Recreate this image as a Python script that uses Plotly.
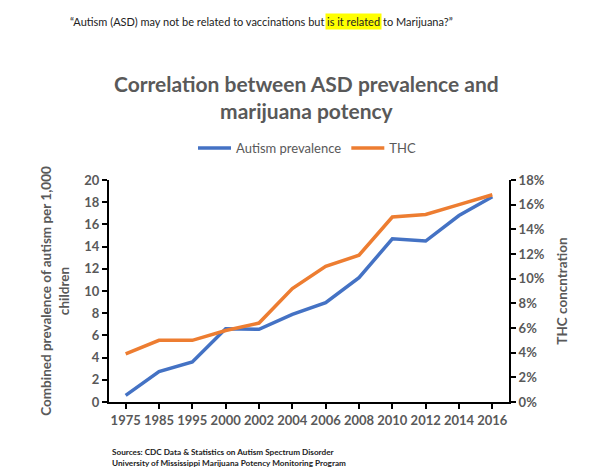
import plotly.graph_objects as go

years = ["1975", "1985", "1995", "2000", "2002", "2004", "2006", "2008", "2010", "2012", "2014", "2016"]
autism = [0.6, 2.75, 3.6, 6.6, 6.55, 7.9, 8.95, 11.2, 14.7, 14.5, 16.8, 18.5]
thc = [3.9, 5.0, 5.0, 5.8, 6.4, 9.2, 11.0, 11.9, 15.0, 15.2, 16.0, 16.8]
left_ticks = [0, 2, 4, 6, 8, 10, 12, 14, 16, 18, 20]
right_ticks = [0, 2, 4, 6, 8, 10, 12, 14, 16, 18]

W, H = 600, 474
L, R, T, B = 109, 509, 180, 402
gray = "#595959"
font = "Lato"

fig = go.Figure()
fig.add_trace(go.Scatter(x=years, y=autism, name="Autism prevalence", mode="lines",
                         line=dict(color="#4472C4", width=3.5)))
fig.add_trace(go.Scatter(x=years, y=thc, name="THC", mode="lines", yaxis="y2",
                         line=dict(color="#ED7D31", width=3.5)))

def px_x(p):
    return (p - L) / (R - L)

def px_y(p):
    return (B - p) / (B - T)

axis_common = dict(showline=True, linecolor="black", linewidth=2,
                   ticks="outside", ticklen=5, tickcolor="black", tickwidth=1.5,
                   tickfont=dict(size=13, color=gray), showgrid=False, zeroline=False)

fig.update_layout(
    width=W, height=H,
    margin=dict(l=L, r=W - R, t=T, b=H - B),
    paper_bgcolor="white", plot_bgcolor="white",
    font=dict(family=font, color=gray, size=13),
    showlegend=True,
    legend=dict(orientation="h", x=px_x(307), xanchor="center", y=px_y(148), yanchor="middle",
                font=dict(size=13, color=gray), itemwidth=33, tracegroupgap=0),
    xaxis=dict(type="category", range=[-0.5, 11.5],
               tickvals=years, ticktext=["<b>%s</b>" % y for y in years], **axis_common),
    yaxis=dict(range=[0, 20], tickvals=left_ticks, ticktext=["<b>%d</b>" % v for v in left_ticks],
               title=dict(text="<b>Combined prevalence of autism per 1,000<br>children</b>",
                          font=dict(size=13.5, color=gray), standoff=12),
               **axis_common),
    yaxis2=dict(range=[0, 18], tickvals=right_ticks, ticktext=["<b>%d%%</b>" % v for v in right_ticks],
                overlaying="y", side="right",
                title=dict(text="<b>THC concntration</b>", font=dict(size=13.5, color=gray), standoff=14),
                **axis_common),
)

qfont = dict(size=11, color="#222222")
annotations = [
    dict(text="“Autism (ASD) may not be related to vaccinations but", x=px_x(326), y=px_y(21),
         xanchor="right", yanchor="middle", font=qfont),
    dict(text="is it related", x=px_x(325), y=px_y(21), xanchor="left", yanchor="middle",
         bgcolor="#FFFF00", borderpad=1, font=qfont),
    dict(text="to Marijuana?”", x=px_x(381), y=px_y(21), xanchor="left", yanchor="middle",
         font=qfont),
    dict(text="<b>Correlation between ASD prevalence and<br>marijuana potency</b>", x=px_x(306),
         y=px_y(97), xanchor="center", yanchor="middle", font=dict(size=21, color=gray)),
    dict(text="<b>Sources: CDC Data & Statistics on Autism Spectrum Disorder<br>University of Mississippi Marijuana Potency Monitoring Program</b>",
         x=px_x(110), y=px_y(457), xanchor="left", yanchor="middle", align="left",
         font=dict(size=8.2, color="#222222")),
]
for a in annotations:
    a.update(xref="paper", yref="paper", showarrow=False)
fig.update_layout(annotations=annotations)

fig.write_html("out.html")
